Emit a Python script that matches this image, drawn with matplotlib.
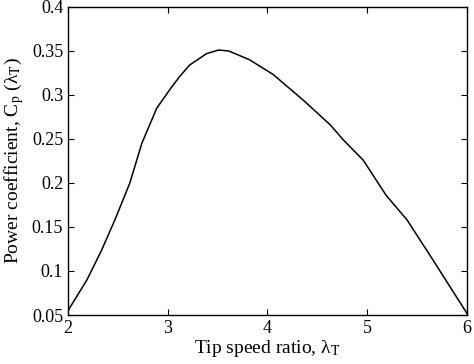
import numpy as np
from matplotlib import pyplot as plt

plt.rcParams['font.family'] = 'Liberation Serif'
plt.rcParams['mathtext.fontset'] = 'stix'

# tip speed ratio and power coefficient
tsr = [2.0, 2.19, 2.33, 2.47, 2.62, 2.74, 2.89, 3.02, 3.12, 3.22, 3.39, 3.51,
       3.61, 3.82, 4.06, 4.36, 4.63, 4.76, 4.96, 5.19, 5.40, 5.66, 6.0]
cp = [0.055, 0.090, 0.122, 0.158, 0.200, 0.245, 0.285, 0.306, 0.321, 0.334,
      0.347, 0.351, 0.350, 0.340, 0.323, 0.294, 0.266, 0.249, 0.226, 0.186,
      0.158, 0.1125, 0.052]

fig = plt.figure(figsize=(4.74, 3.64), dpi=100)
ax = fig.add_axes([0.1435, 0.1346, 0.8415, 0.8464])
ax.plot(tsr, cp, color='k', linewidth=1.1)

ax.set_xlim(2, 6)
ax.set_ylim(0.05, 0.4)
ax.set_xticks([2, 3, 4, 5, 6])
ax.set_yticks([0.05, 0.1, 0.15, 0.2, 0.25, 0.3, 0.35, 0.4])
ax.set_yticklabels(['0.05', '0.1', '0.15', '0.2', '0.25', '0.3', '0.35', '0.4'])
ax.tick_params(direction='in', top=True, right=True, labelsize=13, length=4)
for s in ax.spines.values():
    s.set_linewidth(1.0)

ax.set_xlabel('Tip speed ratio, λ$_{\\rm T}$', fontsize=14, labelpad=1)
ax.set_ylabel('Power coefficient, C$_{\\rm p}$ (λ$_{\\rm T}$)', fontsize=14, labelpad=4)

plt.savefig('out.png', dpi=100)
